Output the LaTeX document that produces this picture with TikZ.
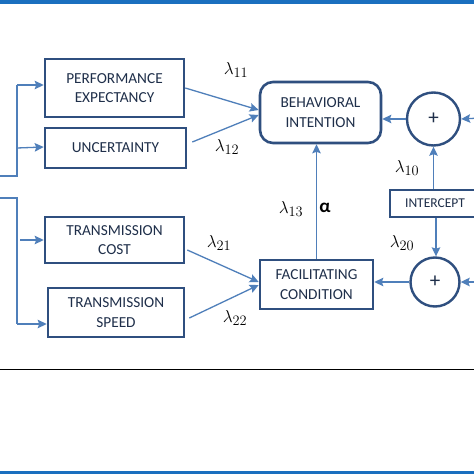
\documentclass[tikz,border=0pt]{standalone}
\usepackage{fontspec}
\setmainfont{Carlito}
\usetikzlibrary{arrows.meta}
\DeclareMathSizes{18}{18}{14}{11}
\definecolor{boxc}{HTML}{2F4F7F}
\definecolor{arrc}{HTML}{4F7FBA}
\definecolor{txtc}{HTML}{1F2F4A}
\definecolor{band}{HTML}{1A6FBF}
\definecolor{thin}{HTML}{9FB4D4}
\tikzset{
  blk/.style={draw=boxc, line width=2.6pt, text=txtc, align=center, inner sep=0pt,
    font=\fontsize{15.3}{19.5}\selectfont},
  sumc/.style={draw=boxc, line width=2.4pt, circle, text=txtc, inner sep=0pt,
    font=\fontsize{21}{21}\selectfont},
  arr/.style={draw=arrc, line width=1.3pt, -{Stealth[length=9pt,width=8.5pt,inset=1.5pt]}},
  ln/.style={draw=arrc, line width=1.3pt},
  lam/.style={text=black, font=\fontsize{18}{18}\selectfont, inner sep=0pt}
}
\begin{document}
\begin{tikzpicture}[x=1pt,y=-1pt]
\useasboundingbox (0,0) rectangle (474,474);
\clip (0,0) rectangle (474,474);
\fill[white] (0,0) rectangle (474,474);
% bands
\fill[band] (0,0) rectangle (474,3.5);
\fill[band] (0,470.5) rectangle (474,474);
\draw[thin, line width=1pt] (0,369) -- (474,369);
% boxes
\node[blk, minimum width=139pt, minimum height=58pt] (pe) at (114.5,88) {PERFORMANCE\\EXPECTANCY};
\node[blk, minimum width=141pt, minimum height=40pt] (unc) at (115.5,148) {UNCERTAINTY};
\node[blk, minimum width=139pt, minimum height=46pt] (tc) at (114.5,240) {TRANSMISSION\\COST};
\node[blk, minimum width=136pt, minimum height=49pt] (ts) at (116,312.5) {TRANSMISSION\\SPEED};
\node[blk, rounded corners=13pt, minimum width=121pt, minimum height=61pt] (bi) at (320.5,112.5) {BEHAVIORAL\\INTENTION};
\node[blk, minimum width=113pt, minimum height=49pt] (fc) at (316.5,284.5) {FACILITATING\\CONDITION};
\node[blk, minimum width=90pt, minimum height=27pt, font=\fontsize{13.5}{15}\selectfont, text width=90pt] (ic) at (435,203.5) {INTERCEPT};
\node[sumc, minimum size=53pt] (c1) at (433.5,119) {+};
\node[sumc, minimum size=49pt] (c2) at (435,282) {+};
% left feeders
\coordinate (l1) at (0,176);
\coordinate (k1) at (17,176);
\coordinate (l2) at (0,198);
\coordinate (k2) at (17,198);
\draw[ln] (l1) -- (k1) -- (k1 |- 0,85);
\draw[arr] (k1 |- 0,85) -- (pe.west |- 0,85);
\draw[arr] (k1 |- unc.west) -- ([yshift=1]unc.west);
\draw[ln] (l2) -- (k2) -- (k2 |- 0,324);
\draw[arr] (k2 |- 0,324) -- (ts.west |- 0,324);
\draw[arr] ([xshift=3]k2 |- tc.west) -- (tc.west);
% into BI and FC
\draw[arr] (pe.east) -- ([yshift=2.5]bi.west);
\draw[arr] ([xshift=5,yshift=6]unc.east) -- ([yshift=-2.5]bi.west);
\draw[arr] ([xshift=2,yshift=-10]tc.east) -- ([yshift=2.5]fc.west);
\draw[arr] ([xshift=4,yshift=-5.5]ts.east) -- ([yshift=-0.5]fc.west);
\draw[arr] (fc.north) -- (fc.north |- bi.south);
\draw[arr] (c1.west) -- (c1.west -| bi.east);
\draw[arr] (c2.west) -- (c2.west -| fc.east);
\draw[arr] (ic.north -| c1.south) -- (c1.south);
\draw[arr] ([xshift=1]ic.south -| c2.north) -- ([xshift=1]c2.north);
\coordinate (r1) at (480,118);
\coordinate (r2) at (480,282);
\draw[arr] (r1) -- (c1.east);
\draw[arr] (r2) -- (c2.east);
% labels
\node[lam] (t11) at (236,70) {$\lambda_{11}$};
\node[lam] (t12) at (227,147) {$\lambda_{12}$};
\node[lam] (t21) at (219,243) {$\lambda_{21}$};
\node[lam] (t22) at (235,318) {$\lambda_{22}$};
\node[lam] (t13) at (291,209) {$\lambda_{13}$};
\node[lam] (t10) at (407,168) {$\lambda_{10}$};
\node[lam] (t20) at (402,243) {$\lambda_{20}$};
\node[text=black, inner sep=0pt, font=\fontsize{19}{19}\selectfont\bfseries] (al) at (325,208) {α};
\end{tikzpicture}
\end{document}
